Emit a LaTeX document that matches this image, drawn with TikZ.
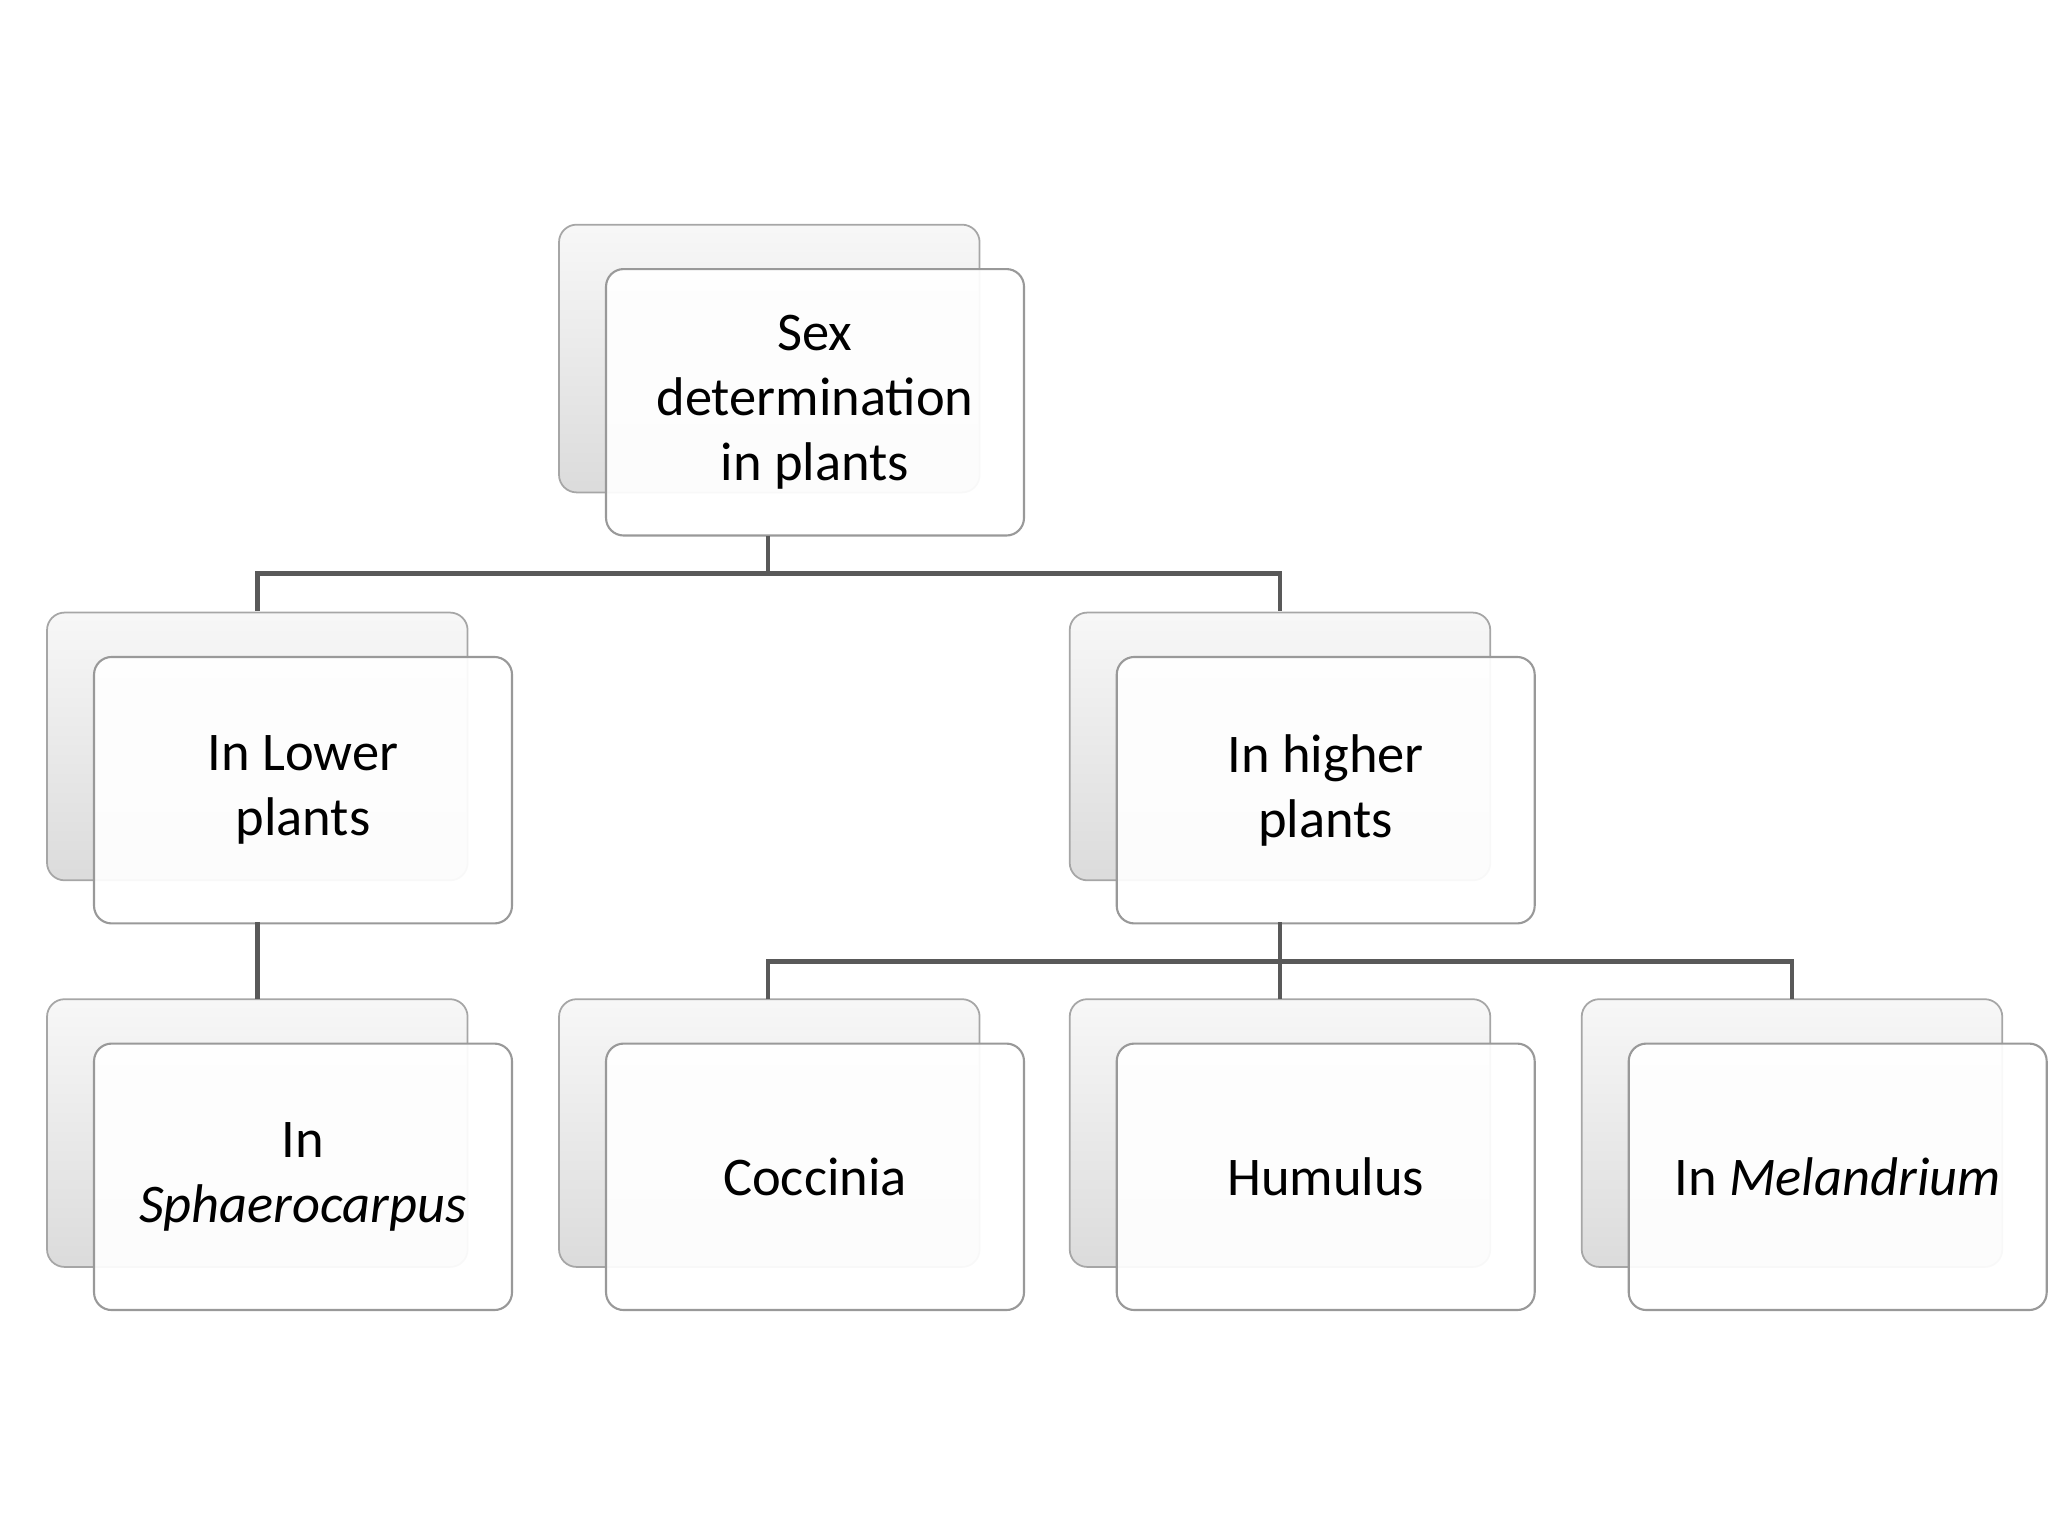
\documentclass[tikz,border=0pt]{standalone}
\usepackage{fontspec}
\setmainfont{Carlito}
\begin{document}
\begin{tikzpicture}[x=0.01306cm,y=-0.01306cm,
  back/.style={draw=gray!70,rounded corners=5pt,top color=gray!6,bottom color=gray!28,line width=0.5pt},
  front/.style={draw=gray!80,rounded corners=5pt,fill=white,fill opacity=0.93,text opacity=1,line width=0.6pt,minimum width=320*0.01306cm,minimum height=204*0.01306cm,align=center,font=\fontsize{15.5}{18.5}\selectfont,inner sep=0pt},
  conn/.style={draw=gray!70!black,line width=1.3pt}]
\useasboundingbox (0,0) rectangle (1568,1176);
\def\unit#1#2#3#4{%
  \draw[back] (#1-36,#2-34) rectangle ++(322,205);
  \node[front] (#3) at (#1+160,#2+102) {#4};}
\unit{464}{206}{top}{Sex\\determination\\in plants}
\unit{72}{503}{low}{In Lower\\plants}
\unit{855}{503}{high}{In higher\\plants}
\unit{72}{799}{sph}{In\\\itshape Sphaerocarpus}
\unit{464}{799}{coc}{Coccinia}
\unit{855}{799}{hum}{Humulus}
\unit{1247}{799}{mel}{In \textit{Melandrium}}
\coordinate (t) at (588,410);
\draw[conn] (t) -- (588,439) -- (197,439) -- (197,468);
\draw[conn] (588,439) -- (980,439) -- (980,468);
\draw[conn] (197,706) -- (197,765);
\draw[conn] (980,706) -- (980,765);
\draw[conn] (588,765) -- (588,736) -- (1372,736) -- (1372,765);
\end{tikzpicture}
\end{document}
